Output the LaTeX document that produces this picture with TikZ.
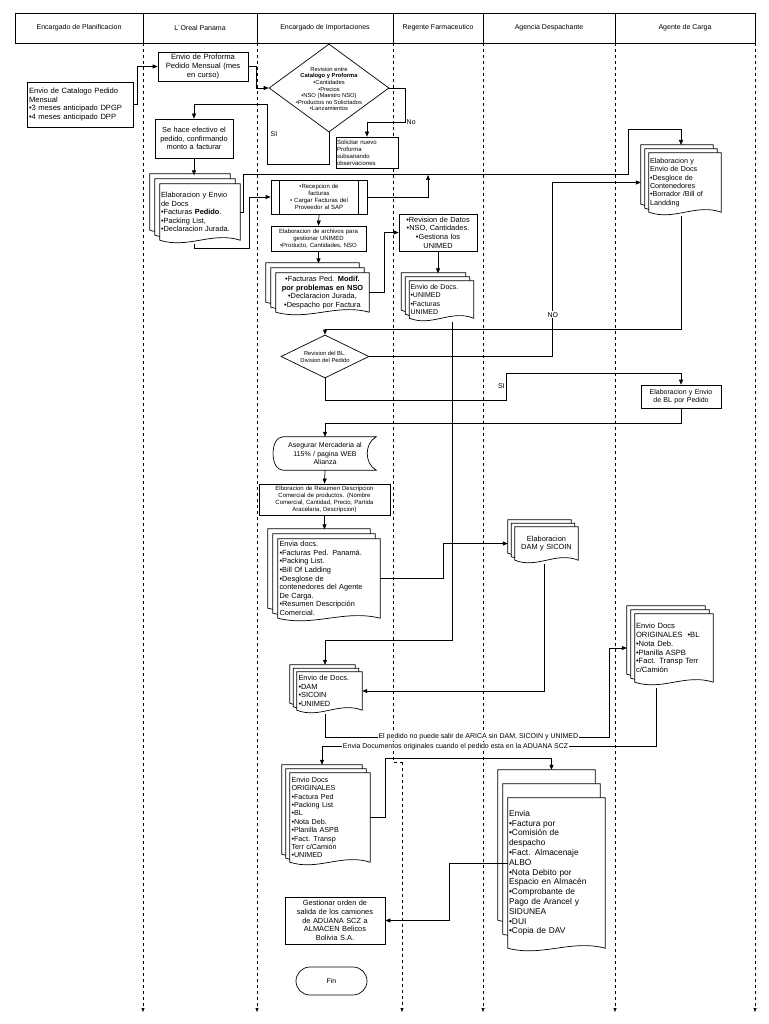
\documentclass[tikz,border=0pt]{standalone}
\usepackage{fontspec}
\setmainfont{Liberation Sans}
\usetikzlibrary{calc,shapes.geometric,arrows.meta}
\pgfdeclarelayer{bg}\pgfdeclarelayer{docs}
\pgfsetlayers{bg,docs,main}
\newcommand\docp[3]{($(#1.north west)+({#2},{#3})$) -- ($(#1.north east)+({#2},{#3})$) -- ($(#1.south east)+({#2},{#3})$) .. controls ($(#1.south east)!0.35!(#1.south west)+({#2},{#3-9})$) and ($(#1.south east)!0.65!(#1.south west)+({#2},{#3+9})$) .. ($(#1.south west)+({#2},{#3})$) -- cycle}
\newcommand\stk[3]{\begin{pgfonlayer}{docs}\foreach \k in {2,1,0}{\draw[line width=0.7pt,fill=white] \docp{#1}{-\k*#2}{-\k*#3};}\end{pgfonlayer}}
\begin{document}
\hyphenpenalty=10000 \exhyphenpenalty=10000
\begin{tikzpicture}[x=1pt,y=-1pt,
  every node/.style={font=\fontsize{7}{8.1}\selectfont},
  box/.style={draw,line width=0.7pt,fill=white,align=center,inner sep=1pt},
  doc/.style={align=left,inner sep=1pt,anchor=center},
  arr/.style={-{Triangle[length=5pt,width=4pt]},line width=0.7pt},
  lane/.style={dashed,line width=0.6pt,-{Triangle[length=4pt,width=3pt]}}]
\useasboundingbox (0,0) rectangle (768,1024);
% header
\draw[line width=0.8pt] (15,13) rectangle (755,43);
\foreach \x in {143,257,393,483,615} \draw[line width=0.8pt] (\x,13) -- (\x,43);
\node (h1) at (79,28) {Encargado de Planificacion};
\node (h2) at (200,28) {L´Oreal Panama};
\node (h3) at (325,28) {Encargado de Importaciones};
\node (h4) at (438,28) {Regente Farmaceutico};
\node (h5) at (549,28) {Agencia Despachante};
\node (h6) at (685,28) {Agente de Carga};
\begin{pgfonlayer}{bg}
\foreach \x in {143,257,483,615,755} \draw[lane] (\x,43) -- (\x,1012);
\draw[dashed,line width=0.6pt] (393,43) -- (393,762) -- (402,762);
\draw[lane] (402,762) -- (402,1012);
\end{pgfonlayer}
% nodes
\node[box,align=left,minimum width=106,minimum height=45,text width=102,font=\fontsize{7.6}{8.8}\selectfont] (cat) at (80,104.5) {Envio de Catalogo Pedido\\Mensual\\•3 meses anticipado DPGP\\•4 meses anticipado DPP};
\node[box,minimum width=90,minimum height=29,text width=88,font=\fontsize{7.6}{8.8}\selectfont] (prof) at (203,66.5) {Envio de Proforma\\Pedido Mensual (mes\\en curso)};
\node[draw,line width=0.7pt,diamond,minimum width=120,minimum height=88,inner sep=0] (dia) at (329,88) {};
\node[align=center,font=\fontsize{5.8}{6.6}\selectfont] (diat) at (329,89) {Revision entre\\\textbf{Catalogo y Proforma}\\•Cantidades\\•Precios\\•NSO (Maestro NSO)\\•Productos no Solicitados\\•Lanzamientos};
\node[box,minimum width=78,minimum height=39,text width=76,font=\fontsize{7.4}{8.6}\selectfont] (se) at (194,138.5) {Se hace efectivo el\\pedido, confirmando\\monto a facturar};
\node[box,align=left,minimum width=62,minimum height=31,text width=60,font=\fontsize{6}{7}\selectfont] (sol) at (367,152.5) {Solicitar nuevo\\Proforma\\subsanando\\observaciones};
\node[doc,minimum width=80,minimum height=56,text width=78,font=\fontsize{7.4}{8.6}\selectfont] (A) at (200,212) {Elaboracion y Envio\\de Docs\\•Facturas \textbf{Pedido}.\\•Packing List,\\•Declaracion Jurada.};
\stk{A}{5}{5}
\node[box,minimum width=96,minimum height=34,text width=76,font=\fontsize{6}{7}\selectfont] (rec) at (319,197) {•Recepcion de\\facturas\\• Cargar Facturas del\\Proveedor al SAP};
\draw[line width=0.7pt] ($(rec.north west)+(9,0)$) -- ($(rec.south west)+(9,0)$) ($(rec.north east)+(-9,0)$) -- ($(rec.south east)+(-9,0)$);
\node[box,minimum width=95,minimum height=25,text width=93,font=\fontsize{6}{7}\selectfont] (arch) at (318.5,238.5) {Elaboracion de archivos para\\gestionar UNIMED\\•Producto, Cantidades, NSO};
\node[doc,align=center,minimum width=91,minimum height=39,text width=91,font=\fontsize{7.4}{8.6}\selectfont] (B) at (322.5,292.5) {•Facturas Ped. \textbf{Modif.}\\\textbf{por problemas en NSO}\\•Declaracion Jurada,\\•Despacho por Factura};
\stk{B}{5}{5}
\node[box,minimum width=78,minimum height=37,text width=76,font=\fontsize{7.4}{8.6}\selectfont] (rev) at (438,232.5) {•Revision de Datos\\•NSO, Cantidades.\\•Gestiona los\\UNIMED};
\node[doc,minimum width=63,minimum height=37,text width=62] (C) at (441.5,299.5) {Envio de Docs.\\•UNIMED\\•Facturas\\UNIMED};
\stk{C}{4}{4}
\node[doc,minimum width=72,minimum height=59,text width=70,font=\fontsize{7.2}{8.4}\selectfont] (D) at (685,182.5) {Elaboracion y\\Envio de Docs\\•Desgloce de\\Contenedores\\•Borrador /Bill of\\Landding};
\stk{D}{4}{4}
\node[draw,line width=0.7pt,diamond,minimum width=88,minimum height=43,inner sep=0] (bl) at (325,356.5) {};
\node[align=center,font=\fontsize{5.8}{6.6}\selectfont] (blt) at (325,357) {Revision del BL.\\Division del Pedido};
\node[box,minimum width=80,minimum height=23,text width=78] (blbox) at (681,396.5) {Elaboracion y Envio\\de BL por Pedido};
\node[align=center,minimum width=102,minimum height=33,text width=90,inner sep=0] (aseg) at (325,453.5) {Asegurar Mercaderia al\\115\% / pagina WEB\\Alianza};
\draw[line width=0.7pt] ($(aseg.north west)+(9,0)$) -- (aseg.north east) .. controls ($(aseg.east)+(-12,-10)$) and ($(aseg.east)+(-12,10)$) .. (aseg.south east) -- ($(aseg.south west)+(9,0)$) .. controls ($(aseg.south west)+(-4,0)$) and ($(aseg.north west)+(-4,0)$) .. ($(aseg.north west)+(9,0)$);
\node[box,minimum width=131,minimum height=31,text width=129,font=\fontsize{6}{7}\selectfont] (res) at (324.5,499.5) {Elboracion de Resumen Descripcion\\Comercial de productos. (Nombre\\Comercial, Cantidad, Precio, Partida\\Aracelaria, Descripcion)};
\node[doc,minimum width=102,minimum height=79,text width=99,font=\fontsize{7.4}{8.6}\selectfont] (E) at (329,578.5) {Envia docs.\\•Facturas Ped. Panamá.\\•Packing List.\\•Bill Of Ladding\\•Desglose de\\contenedores del Agente\\De Carga.\\•Resumen Descripción\\Comercial.};
\stk{E}{5}{5}
\node[doc,align=center,minimum width=63,minimum height=33,text width=61,font=\fontsize{7.4}{8.6}\selectfont] (F) at (546.5,543.5) {Elaboracion\\DAM y SICOIN};
\stk{F}{3.5}{3.5}
\node[doc,minimum width=65,minimum height=38,text width=62,font=\fontsize{7.4}{8.6}\selectfont] (G) at (329.5,691) {Envio de Docs.\\•DAM\\•SICOIN\\•UNIMED};
\stk{G}{3.5}{3.5}
\node[doc,minimum width=78,minimum height=68,text width=76,font=\fontsize{7.6}{8.8}\selectfont] (H) at (674,648) {Envio Docs\\ORIGINALES \ •BL\\•Nota Deb.\\•Planilla ASPB\\•Fact. Transp Terr\\c/Camión};
\stk{H}{4}{4}
\node[doc,minimum width=80,minimum height=89,text width=77,font=\fontsize{7.2}{8.4}\selectfont] (I) at (330,817.5) {Envio Docs\\ORIGINALES\\•Factura Ped\\•Packing List\\•BL\\•Nota Deb.\\•Planilla ASPB\\•Fact. Transp\\Terr c/Camión\\•UNIMED};
\stk{I}{4}{4}
\node[doc,minimum width=97,minimum height=150,text width=95,font=\fontsize{8.4}{9.8}\selectfont] (J) at (556.5,873) {Envia\\•Factura por\\•Comisión de\\despacho\\•Fact. Almacenaje\\ALBO\\•Nota Debito por\\Espacio en Almacén\\•Comprobante de\\Pago de Arancel y\\SIDUNEA\\•DUI\\•Copia de DAV};
\stk{J}{5}{14}
\node[box,minimum width=100,minimum height=47,text width=96,font=\fontsize{7.4}{8.6}\selectfont] (gest) at (335,920.5) {Gestionar orden de\\salida de los camiones\\de ADUANA SCZ a\\ALMACEN Belicos\\Bolivia S.A.};
\node[box,rounded corners=14pt,minimum width=71,minimum height=28] (fin) at (331.5,981) {Fin};
% connectors
\draw[arr] (cat.east) -- ++(4,0) |- (prof.west);
\draw[arr] (prof.east) -- ++(8,0) |- (dia.west);
\coordinate (siA) at (267,164); \coordinate (siB) at (267,104);
\draw[arr] (dia.south) |- (siA) -- node[right]{SI} (siB) -| (se.north);
\draw[arr] (dia.east) -- ++(16,0) -- ++(0,34) node[right,inner sep=1pt]{No} -| (sol.north);
\draw[arr] (se.south) -- ++(0,17);
\coordinate (j1) at (628,174); \coordinate (j2) at (681,129);
\draw[arr] (A.east) -- ++(3,0) |- (j1) |- (j2) -- ++(0,16);
\draw[arr] ($(A.south)+(-6,4)$) -- ++(0,4) -| ($(rec.west)+(-21,0)$) -- (rec.west);
\draw[arr] (rec.east) -| ($(j1)+(-200,1)$);
\draw[arr] (rec.south) -- (arch.north);
\draw[arr] (arch.south) -- ++(0,12);
\draw[arr] (B.east) -- ++(15,0) |- (rev.west);
\draw[arr] (rev.south) -- ++(0,22);
\coordinate (c1) at (452,640);
\draw[arr] ($(C.south)+(10.5,4)$) -- (c1) -| ($(G.north)+(-4.5,-7)$);
\draw[arr] ($(D.south)+(-4,4)$) |- ($(bl.north)+(0,-5)$) -- (bl.north);
\draw[arr] (bl.east) -| node[pos=0.62,fill=white,inner sep=1pt]{NO} ($(D.west)+(-96,0)$) -- ($(D.west)+(-8,0)$);
\coordinate (s1) at (506,400); \coordinate (s2) at (506,373);
\draw[arr] (bl.south) |- (s1) -- node[left,inner sep=1pt]{SI} (s2) -| (blbox.north);
\draw[arr] (blbox.south) |- ($(aseg.north)+(0,-13)$) -- (aseg.north);
\draw[arr] (aseg.south) -- (res.north);
\draw[arr] (res.south) -- ++(0,14);
\draw[arr] (E.east) -- ++(63,0) |- ($(F.west)+(-7,0)$);
\draw[arr] ($(F.south)+(-2.5,4)$) |- (G.east);
\coordinate (g1) at (609,737);
\draw[arr] ($(G.south)+(-4.5,4)$) |- node[pos=0.77,fill=white,inner sep=1pt]{El pedido no puede salir de ARICA sin DAM, SICOIN y UNIMED} (g1) |- ($(H.west)+(-8,0)$);
\draw[arr] ($(H.south)+(-18,6)$) |- node[pos=0.8,fill=white,inner sep=1pt]{Envia Documentos originales cuando el pedido esta en la ADUANA SCZ} ($(I.north)+(-8,-26)$) -- ($(I.north)+(-8,-8)$);
\draw[arr] (I.east) -- ++(15,0) |- ($(J.north)+(-5,-39)$) -- ($(J.north)+(-5,-28)$);
\draw[arr] ($(J.west)+(0,-10)$) -- ++(-58,0) |- (gest.east);
\end{tikzpicture}
\end{document}
